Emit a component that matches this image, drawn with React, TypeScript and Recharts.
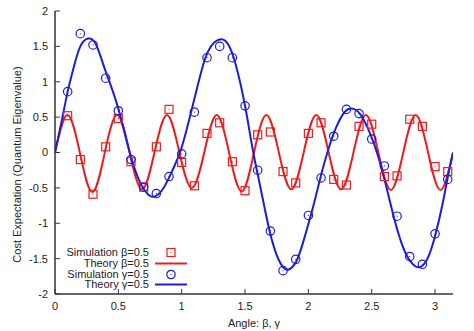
import React from "react";
import { ComposedChart, Line, Scatter, XAxis, YAxis, Label } from "recharts";

const RED = "#ee1c1c";
const BLUE = "#1c1cdc";
const AXIS = "#333";
const TEXT = "#222";
const FONT = "'Liberation Sans', Arial, Helvetica, sans-serif";

const xTicks = [0, 0.5, 1, 1.5, 2, 2.5, 3];
const yTicks = [-2, -1.5, -1, -0.5, 0, 0.5, 1, 1.5, 2];

// simulated angles (same grid for both runs)
const simAngles = [0.1, 0.2, 0.3, 0.4, 0.5, 0.6, 0.7, 0.8, 0.9, 1.0, 1.1, 1.2, 1.3, 1.4, 1.5, 1.6, 1.7, 1.8, 1.9, 2.0, 2.1, 2.2, 2.3, 2.4, 2.5, 2.6, 2.7, 2.8, 2.9, 3.0, 3.1];
const simBeta = [0.52, -0.1, -0.59, 0.08, 0.48, -0.13, -0.49, 0.08, 0.61, -0.14, -0.47, 0.27, 0.42, -0.13, -0.54, 0.25, 0.29, -0.27, -0.43, 0.27, 0.42, -0.38, -0.46, 0.37, 0.4, -0.34, -0.33, 0.47, 0.37, -0.2, -0.27];
const simGamma = [0.86, 1.68, 1.52, 1.05, 0.59, -0.1, -0.49, -0.58, -0.34, -0.02, 0.57, 1.34, 1.5, 1.34, 0.66, -0.25, -1.11, -1.67, -1.51, -0.89, -0.36, 0.23, 0.61, 0.55, 0.19, -0.19, -0.9, -1.47, -1.58, -1.15, -0.38];

const theoryBetaX = [0, 0.098, 0.196, 0.295, 0.393, 0.491, 0.589, 0.687, 0.785, 0.884, 0.982, 1.08, 1.178, 1.276, 1.374, 1.473, 1.571, 1.669, 1.767, 1.865, 1.963, 2.062, 2.16, 2.258, 2.356, 2.454, 2.552, 2.651, 2.749, 2.847, 2.945, 3.043, 3.142];
const theoryBetaY = [0, 0.53, 0, -0.56, 0, 0.53, 0, -0.52, 0, 0.53, 0, -0.5, 0, 0.53, 0, -0.55, 0, 0.53, 0, -0.52, 0, 0.53, 0, -0.52, 0, 0.53, 0, -0.53, 0, 0.53, 0, -0.53, 0];

const theoryGammaX = [0, 0.05, 0.1, 0.15, 0.2, 0.26, 0.32, 0.38, 0.44, 0.5, 0.56, 0.62, 0.68, 0.74, 0.79, 0.85, 0.92, 0.99, 1.05, 1.12, 1.18, 1.24, 1.31, 1.37, 1.43, 1.5, 1.56, 1.62, 1.68, 1.74, 1.8, 1.85, 1.91, 1.97, 2.04, 2.1, 2.16, 2.22, 2.29, 2.35, 2.41, 2.48, 2.55, 2.62, 2.68, 2.75, 2.82, 2.88, 2.94, 3.0, 3.06, 3.1, 3.142];
const theoryGammaY = [0, 0.42, 0.86, 1.22, 1.5, 1.61, 1.54, 1.25, 0.95, 0.62, 0.2, -0.18, -0.45, -0.6, -0.62, -0.52, -0.28, 0.02, 0.4, 0.9, 1.3, 1.52, 1.6, 1.52, 1.22, 0.66, 0.05, -0.48, -1.0, -1.4, -1.62, -1.65, -1.52, -1.2, -0.75, -0.32, 0.06, 0.36, 0.58, 0.62, 0.54, 0.3, -0.05, -0.52, -0.95, -1.35, -1.57, -1.62, -1.5, -1.18, -0.72, -0.35, 0];

const toPoints = (xs: number[], ys: number[]) => xs.map((x, i) => ({ x, y: ys[i] }));

const betaSim = toPoints(simAngles, simBeta);
const gammaSim = toPoints(simAngles, simGamma);
const betaTheory = toPoints(theoryBetaX, theoryBetaY);
const gammaTheory = toPoints(theoryGammaX, theoryGammaY);

const SquareMark = ({ cx, cy }: any) => (
  <g>
    <rect x={cx - 4} y={cy - 4} width={8} height={8} fill="none" stroke={RED} strokeWidth={1.2} />
    <rect x={cx - 0.5} y={cy - 0.5} width={1} height={1} fill={RED} />
  </g>
);

const CircleMark = ({ cx, cy }: any) => (
  <g>
    <circle cx={cx} cy={cy} r={4.2} fill="none" stroke={BLUE} strokeWidth={1.2} />
    <rect x={cx - 0.5} y={cy - 0.5} width={1} height={1} fill={BLUE} />
  </g>
);

const noTick = () => <g />;
const tickStyle = { fontSize: 11, fill: TEXT, fontFamily: FONT };
const axisLine = { stroke: AXIS, strokeWidth: 1.5 };

// y title sits a little below the plot's middle, as in the source figure
const YTitle = ({ viewBox }: any) => {
  const x = viewBox.x + 17;
  const y = viewBox.y + viewBox.height / 2 + 12;
  return (
    <text
      x={x}
      y={y}
      transform={`rotate(-90, ${x}, ${y})`}
      textAnchor="middle"
      dominantBaseline="central"
      style={{ fontSize: 11, fill: TEXT, fontFamily: FONT }}
    >
      Cost Expectation (Quantum Eigenvalue)
    </text>
  );
};

const legendRows = [
  { label: "Simulation β=0.5", color: RED, kind: "square" },
  { label: "Theory β=0.5", color: RED, kind: "line" },
  { label: "Simulation γ=0.5", color: BLUE, kind: "circle" },
  { label: "Theory γ=0.5", color: BLUE, kind: "line" },
];

function LegendBox() {
  return (
    <div style={{ position: "absolute", left: 40, top: 247, fontFamily: FONT, fontSize: 11, color: TEXT }}>
      {legendRows.map((r) => (
        <div key={r.label} style={{ display: "flex", alignItems: "center", height: 10.8 }}>
          <span style={{ width: 109, textAlign: "right", lineHeight: "10.8px", whiteSpace: "nowrap" }}>{r.label}</span>
          <svg width={40} height={11} style={{ marginLeft: 3 }}>
            {r.kind === "line" && <line x1={3} x2={35} y1={5.5} y2={5.5} stroke={r.color} strokeWidth={2} />}
            {r.kind === "square" && <SquareMark cx={19} cy={5.5} />}
            {r.kind === "circle" && <CircleMark cx={19} cy={5.5} />}
          </svg>
        </div>
      ))}
    </div>
  );
}

export default function App() {
  return (
    <div style={{ position: "absolute", left: 0, top: 0, width: 474, height: 331, background: "#fff" }}>
      <ComposedChart width={474} height={331} margin={{ top: 11, right: 21, left: 0, bottom: 0 }}>
        <XAxis
          type="number"
          dataKey="x"
          domain={[0, Math.PI]}
          ticks={xTicks}
          interval={0}
          allowDataOverflow
          height={37}
          tickSize={-5}
          tickMargin={13}
          tick={tickStyle}
          axisLine={axisLine}
          tickLine={{ stroke: AXIS }}
        >
          <Label value="Angle: β, γ" position="insideBottom" offset={4} style={{ fontSize: 11, fill: TEXT, fontFamily: FONT }} />
        </XAxis>
        <XAxis
          xAxisId="top"
          orientation="top"
          type="number"
          dataKey="x"
          domain={[0, Math.PI]}
          ticks={xTicks}
          interval={0}
          allowDataOverflow
          height={0}
          tickSize={-5}
          tick={noTick}
          axisLine={axisLine}
          tickLine={{ stroke: AXIS }}
        />
        <YAxis
          type="number"
          dataKey="y"
          domain={[-2, 2]}
          ticks={yTicks}
          interval={0}
          allowDataOverflow
          width={55}
          tickSize={-5}
          tickMargin={12}
          tick={tickStyle}
          axisLine={axisLine}
          tickLine={{ stroke: AXIS }}
        >
          <Label content={YTitle} />
        </YAxis>
        <YAxis
          yAxisId="right"
          orientation="right"
          type="number"
          domain={[-2, 2]}
          ticks={yTicks}
          interval={0}
          allowDataOverflow
          width={0}
          tickSize={-5}
          tick={noTick}
          axisLine={axisLine}
          tickLine={{ stroke: AXIS }}
        />
        <Scatter data={betaSim} dataKey="y" shape={SquareMark} isAnimationActive={false} />
        <Line data={betaTheory} dataKey="y" type="natural" stroke={RED} strokeWidth={2} dot={false} isAnimationActive={false} />
        <Scatter data={gammaSim} dataKey="y" shape={CircleMark} isAnimationActive={false} />
        <Line data={gammaTheory} dataKey="y" type="natural" stroke={BLUE} strokeWidth={2} dot={false} isAnimationActive={false} />
      </ComposedChart>
      <LegendBox />
    </div>
  );
}
